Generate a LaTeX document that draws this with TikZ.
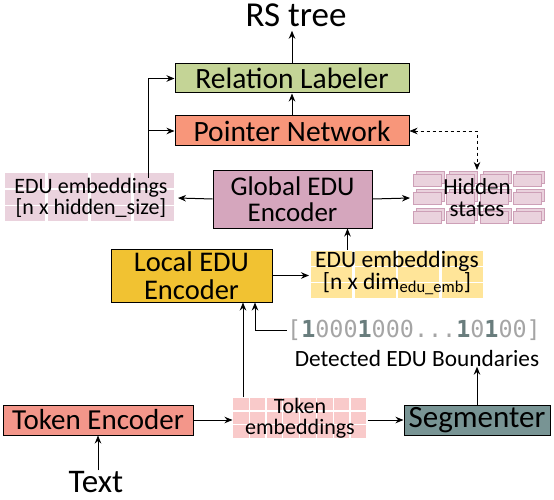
\documentclass[tikz,border=0pt]{standalone}
\usepackage{fontspec}
\setmainfont{Carlito}
\newfontfamily\bitsfont{DejaVu Sans Mono}
\usetikzlibrary{arrows.meta, positioning}
\tikzset{>={Stealth[length=8pt,width=6.5pt]}}

\definecolor{labelgreen}{RGB}{196,212,150}
\definecolor{pointerred}{RGB}{248,150,122}
\definecolor{globalmauve}{RGB}{213,166,189}
\definecolor{localgold}{RGB}{241,194,50}
\definecolor{tokenred}{RGB}{243,150,138}
\definecolor{segmgray}{RGB}{120,148,148}
\definecolor{hidpink}{RGB}{234,210,221}
\definecolor{brickedge}{RGB}{205,160,183}
\definecolor{embyellow}{RGB}{255,229,153}
\definecolor{tokpink}{RGB}{249,202,202}
\definecolor{zerogray}{RGB}{165,165,165}
\definecolor{onegray}{RGB}{105,125,125}

\newcommand\fsz[2]{\fontsize{#1}{#2}\selectfont}
\newcommand\one{{\bfseries\textcolor{onegray}{1}}}

\begin{document}
\begin{tikzpicture}[x=1pt, y=-1pt, line width=1pt,
    block/.style={draw, line width=1pt, inner sep=0pt, align=center},
    label/.style={inner sep=0pt, align=center}]
  \useasboundingbox (0,0) rectangle (554,500);

  % cell grids behind the embedding labels
  \foreach \i in {0,...,3}
    \foreach \j in {0,...,2}
      \fill[hidpink] (5+43*\i, 173+16.5*\j) rectangle ++(40,15);
  \foreach \i in {0,...,3}
    \foreach \j in {0,...,2}
      \fill[embyellow] (311+43.5*\i, 251+16*\j) rectangle ++(41,15);
  \foreach \i in {0,...,7}
    \foreach \j in {0,...,2}
      \fill[tokpink] (233+16.8*\i, 398+13.6*\j) rectangle ++(15.6,12.4);
  \foreach \i in {0,...,3}
    \foreach \j in {0,...,2} {
      \filldraw[fill=hidpink, draw=brickedge, line width=0.8pt]
        (416+33.5*\i, 171+18.5*\j) rectangle ++(28,12);
      \filldraw[fill=hidpink, draw=brickedge, line width=0.8pt]
        (413+33.5*\i, 174+18.5*\j) rectangle ++(28,12);
    }

  % blocks
  \node[label, font=\fsz{35}{35}, anchor=base] (rstree) at (296,27) {RS tree};
  \node[block, fill=labelgreen, minimum width=234pt, minimum height=29pt,
        font=\fsz{29.5}{29}] (labeler) at (292,78.5) {Relation Labeler};
  \node[block, fill=pointerred, minimum width=234pt, minimum height=30pt,
        font=\fsz{29.5}{29}] (pointer) at (292,131) {Pointer Network};
  \node[block, fill=globalmauve, minimum width=159pt, minimum height=58pt,
        font=\fsz{27}{26}] (global) at (292.5,199) {Global EDU\\Encoder};
  \node[label, minimum width=173pt, font=\fsz{22}{21}] (eduhid) at (91,198)
        {EDU embeddings\\{[n x hidden\_size]}};
  \node[label, minimum width=133pt, minimum height=55pt,
        font=\fsz{23}{22}] (hidden) at (477,198) {Hidden\\states};
  \node[block, fill=localgold, minimum width=161pt, minimum height=53pt,
        font=\fsz{28.5}{27.5}] (local) at (191.5,275.5) {Local EDU\\Encoder};
  \node[label, minimum width=175pt, font=\fsz{23.5}{22}] (eduloc) at (397,273)
        {EDU embeddings\\{[n x dim\textsubscript{\fsz{16.5}{16}edu\_emb}]}};
  \node[label, font=\bitsfont\fsz{23.4}{22}\color{zerogray}] (bounds) at (414,330)
        {[\one000\one000...\one0\one00]};
  \node[label, font=\fsz{23.3}{22}] (detected) at (417,358) {Detected EDU Boundaries};
  \node[block, fill=tokenred, minimum width=190pt, minimum height=30pt,
        font=\fsz{29}{29}] (tokenc) at (98,420) {Token Encoder};
  \node[label, minimum width=134pt, font=\fsz{22}{21}] (tokemb) at (300,418)
        {Token\\embeddings};
  \node[block, fill=segmgray, minimum width=146pt, minimum height=30pt,
        font=\fsz{31}{31}] (segm) at (477,420) {Segmenter};
  \node[label, font=\fsz{33}{33}, anchor=base] (text) at (96,492) {Text};

  % connectors
  \draw[->] (labeler.north) -- ([yshift=-3pt]labeler.north |- rstree.south);
  \draw[->] (pointer) -- (labeler);
  \draw[->] ([xshift=57pt]eduhid.north) |- (labeler.west);
  \draw[->] ([xshift=57pt]eduhid.north) |- (pointer.west);
  \draw[<->, dashed, line width=0.8pt] (pointer.east) -| (hidden.north);
  \draw[->] (global.west) -- (eduhid.east);
  \draw[->] (global.east) -- (hidden.west);
  \draw[->] (local.east) -- (local.east -| eduloc.west);
  \draw[<-] ([xshift=55pt]global.south) -- ([xshift=55pt]global.south |- eduloc.north);
  \draw[->] ([xshift=-57pt]tokemb.north) -- ([xshift=-57pt]tokemb.north |- local.south);
  \draw[->] (bounds.west) -| ([xshift=63.5pt]local.south);
  \draw[->] (segm.north) -- (segm.north |- detected.south);
  \draw[->] (tokenc.east) -- (tokenc.east -| tokemb.west);
  \draw[->] (tokemb.east |- segm.west) -- (segm.west);
  \draw[->] ([xshift=2pt]text.north) -- ([xshift=2pt]text.north |- tokenc.south);
\end{tikzpicture}
\end{document}
